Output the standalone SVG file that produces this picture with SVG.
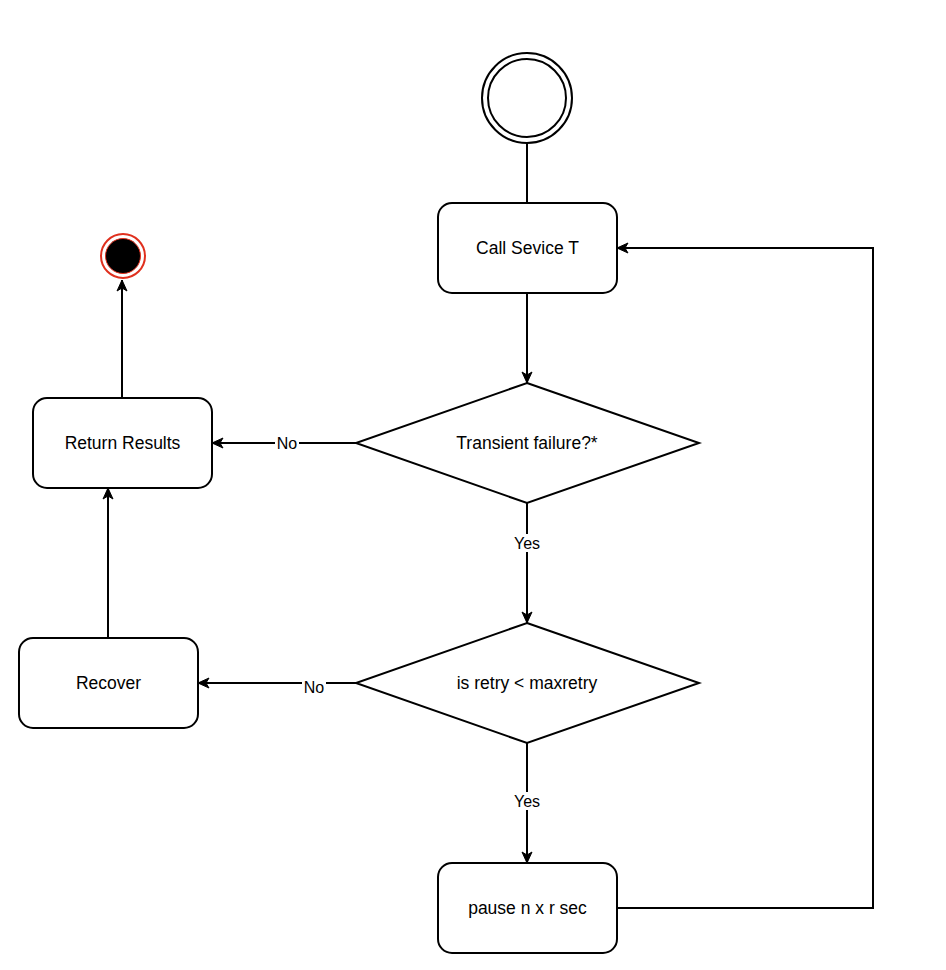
<svg xmlns="http://www.w3.org/2000/svg" width="946" height="970" viewBox="0 0 946 970">
<style>
.box{fill:#fff;stroke:#000;stroke-width:2}
.edge{fill:none;stroke:#000;stroke-width:2}
.t{font-family:"Liberation Sans",Arial,sans-serif;font-size:17.5px;fill:#000;text-anchor:middle;dominant-baseline:central}
.l{font-family:"Liberation Sans",Arial,sans-serif;font-size:16px;fill:#000;text-anchor:middle;dominant-baseline:central}
</style>
<defs>
<marker id="arr" markerUnits="userSpaceOnUse" markerWidth="13" markerHeight="13" viewBox="0 0 13 13" refX="12" refY="6.5" orient="auto">
<path d="M1,1.5 L12,6.5 L1,11.5 L4,6.5 Z" fill="#000" stroke="#000" stroke-width="1"/>
</marker>
</defs>
<rect width="946" height="970" fill="#fff"/>
<g id="connectors">
<path class="edge" d="M527,143 L527,203"/>
<path class="edge" d="M527,293 L527,383" marker-end="url(#arr)"/>
<path class="edge" d="M356,443 L212,443" marker-end="url(#arr)"/>
<path class="edge" d="M122,398 L122,280" marker-end="url(#arr)"/>
<path class="edge" d="M527,503 L527,623" marker-end="url(#arr)"/>
<path class="edge" d="M356,683 L198,683" marker-end="url(#arr)"/>
<path class="edge" d="M108,638 L108,488" marker-end="url(#arr)"/>
<path class="edge" d="M527,743 L527,863" marker-end="url(#arr)"/>
<path class="edge" d="M617,908 L873,908 L873,248 L617,248" marker-end="url(#arr)"/>
<rect x="275" y="434" width="24" height="18" fill="#fff"/>
<text class="l" x="287" y="443">No</text>
<rect x="302" y="677" width="24" height="18" fill="#fff"/>
<text class="l" x="314" y="687">No</text>
<rect x="511" y="534" width="32" height="18" fill="#fff"/>
<text class="l" x="527" y="543">Yes</text>
<rect x="511" y="792" width="32" height="18" fill="#fff"/>
<text class="l" x="527" y="801">Yes</text>
</g>
<g id="start">
<circle cx="527" cy="98" r="45" class="box"/>
<circle cx="527" cy="98" r="39" class="box"/>
</g>
<g id="end">
<circle cx="123" cy="256" r="22" fill="#fff" stroke="#e0301e" stroke-width="2"/>
<circle cx="123" cy="256" r="17.5" fill="#000" stroke="#e0301e" stroke-width="1"/>
</g>
<g id="call">
<rect x="438" y="203" width="179" height="90" rx="14" class="box"/>
<text class="t" x="527.5" y="248">Call Sevice T</text>
</g>
<g id="transient">
<polygon points="527,383 699,443 527,503 356,443" class="box"/>
<text class="t" x="527" y="443">Transient failure?*</text>
</g>
<g id="return">
<rect x="33" y="398" width="179" height="90" rx="14" class="box"/>
<text class="t" x="122.5" y="443">Return Results</text>
</g>
<g id="retry">
<polygon points="527,623 699,683 527,743 356,683" class="box"/>
<text class="t" x="527" y="683">is retry &lt; maxretry</text>
</g>
<g id="recover">
<rect x="19" y="638" width="179" height="90" rx="14" class="box"/>
<text class="t" x="108.5" y="683">Recover</text>
</g>
<g id="pause">
<rect x="438" y="863" width="179" height="90" rx="14" class="box"/>
<text class="t" x="527.5" y="908">pause n x r sec</text>
</g>
</svg>
